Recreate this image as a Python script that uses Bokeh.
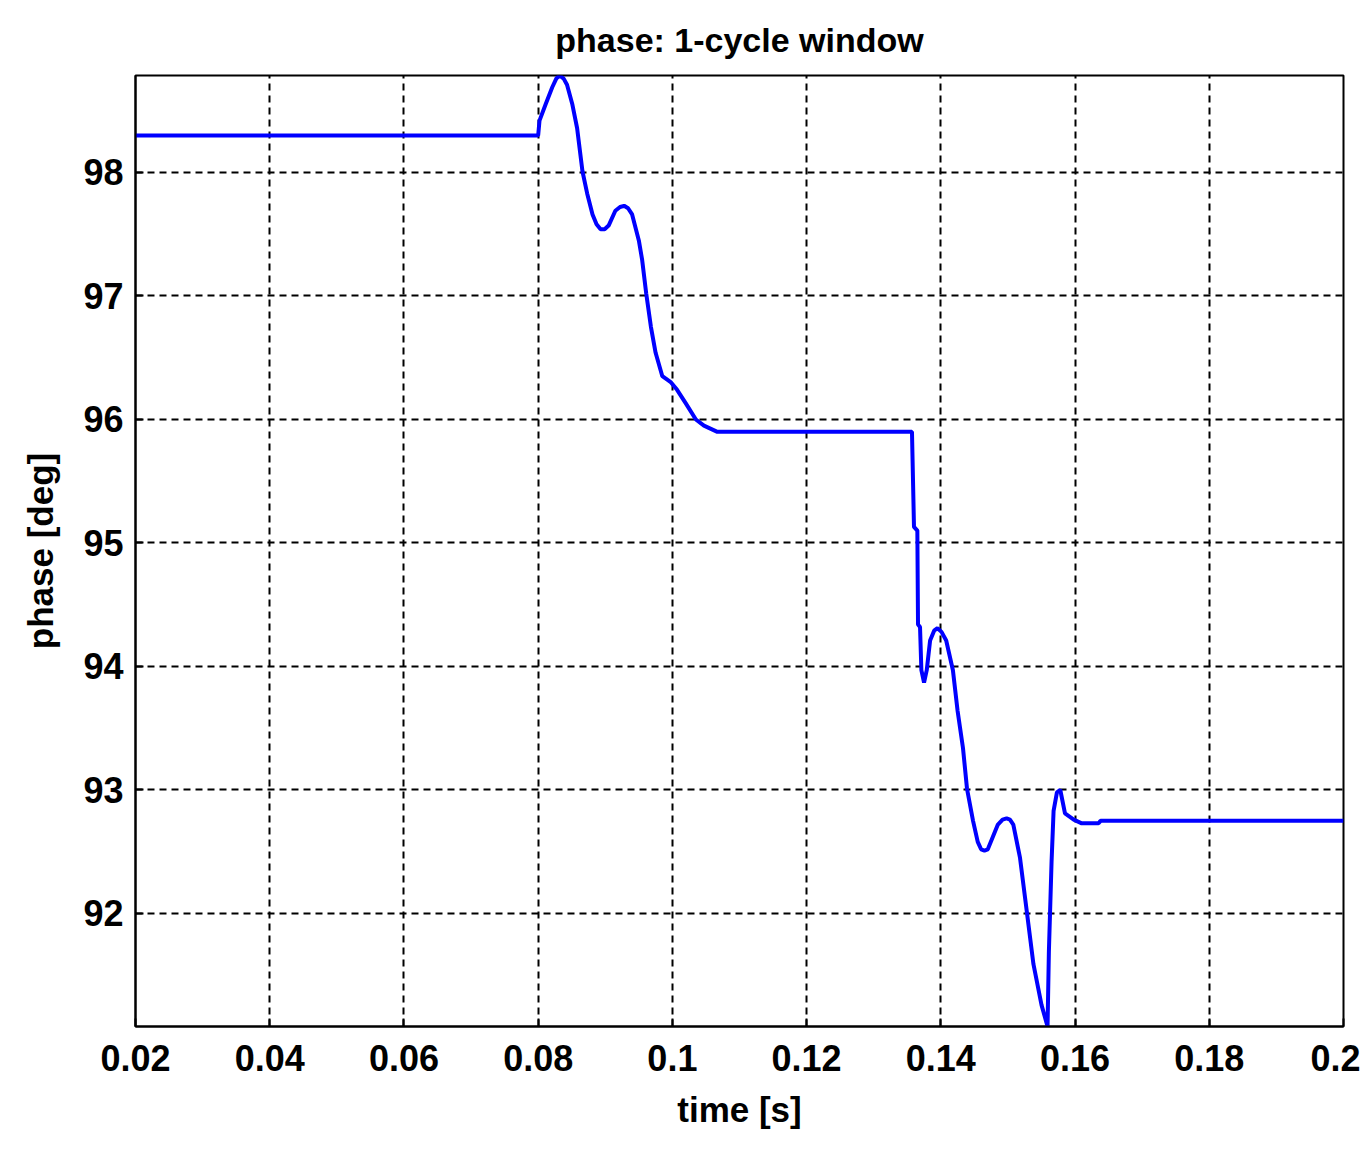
from bokeh.plotting import figure
from bokeh.models import Range1d, FixedTicker
from bokeh.embed import file_html
from bokeh.resources import INLINE

# time [s]
t = [0.0200, 0.0800, 0.0802, 0.0811, 0.0821, 0.0827, 0.0832, 0.0838, 0.0843, 0.0851,
     0.0858, 0.0866, 0.0873, 0.0881, 0.0887, 0.0893, 0.0899, 0.0905, 0.0915, 0.0922,
     0.0928, 0.0934, 0.0940, 0.0950, 0.0955, 0.0961, 0.0968, 0.0975, 0.0985, 0.0998,
     0.1007, 0.1020, 0.1035, 0.1047, 0.1067, 0.1357, 0.1360, 0.1365, 0.1366, 0.1369,
     0.1371, 0.1375, 0.1379, 0.1384, 0.1390, 0.1395, 0.1401, 0.1408, 0.1418, 0.1425,
     0.1433, 0.1439, 0.1448, 0.1455, 0.1460, 0.1465, 0.1470, 0.1485, 0.1492, 0.1498,
     0.1503, 0.1508, 0.1518, 0.1528, 0.1538, 0.1550, 0.1559, 0.1561, 0.1565, 0.1568,
     0.1573, 0.1578, 0.1585, 0.1598, 0.1610, 0.1635, 0.1638, 0.2000]
# phase [deg]
phase = [98.30, 98.30, 98.42, 98.55, 98.69, 98.76, 98.785, 98.76, 98.71, 98.55,
         98.36, 98.01, 97.83, 97.66, 97.58, 97.54, 97.54, 97.57, 97.69, 97.72,
         97.73, 97.71, 97.66, 97.45, 97.29, 97.02, 96.75, 96.54, 96.35, 96.30,
         96.24, 96.13, 96.00, 95.95, 95.90, 95.90, 95.13, 95.10, 94.34, 94.32,
         93.97, 93.87, 93.97, 94.21, 94.29, 94.31, 94.28, 94.21, 93.97, 93.64,
         93.34, 93.01, 92.75, 92.58, 92.52, 92.51, 92.52, 92.72, 92.76, 92.77,
         92.76, 92.72, 92.45, 92.02, 91.59, 91.26, 91.085, 91.69, 92.42, 92.83,
         92.98, 93.00, 92.81, 92.76, 92.73, 92.73, 92.75, 92.75]

xticks = [0.02, 0.04, 0.06, 0.08, 0.1, 0.12, 0.14, 0.16, 0.18, 0.2]
xtick_labels = ["0.02", "0.04", "0.06", "0.08", "0.1", "0.12", "0.14", "0.16", "0.18", "0.2"]
yticks = [92, 93, 94, 95, 96, 97, 98]
ytick_labels = ["92", "93", "94", "95", "96", "97", "98"]

FONT = "Liberation Sans"

p = figure(width=1360, height=1144, output_backend="svg", toolbar_location=None,
           x_range=Range1d(0.02, 0.2), y_range=Range1d(91.085, 98.785),
           min_border_left=135, min_border_right=17, min_border_top=75, min_border_bottom=118,
           title="phase: 1-cycle window")

p.line(t, phase, line_color="#0000FF", line_width=4)

p.title.align = "center"
p.title.vertical_align = "top"
p.title.text_font = FONT
p.title.text_font_size = "34px"
p.title.text_font_style = "bold"
p.title.text_color = "black"
p.title.standoff = 30

p.outline_line_color = "black"
p.outline_line_width = 2
p.outline_line_alpha = 1

for ax, ticks, labels in ((p.xaxis[0], xticks, xtick_labels), (p.yaxis[0], yticks, ytick_labels)):
    ax.ticker = FixedTicker(ticks=ticks)
    ax.major_label_overrides = {tk: lb for tk, lb in zip(ticks, labels)}
    ax.major_tick_in = 8
    ax.major_tick_out = 0
    ax.minor_tick_line_color = None
    ax.major_tick_line_color = "black"
    ax.major_tick_line_width = 2
    ax.axis_line_color = "black"
    ax.axis_line_width = 2
    ax.major_label_text_font = FONT
    ax.major_label_text_font_size = "36px"
    ax.major_label_text_font_style = "bold"
    ax.major_label_text_color = "black"
    ax.axis_label_text_font = FONT
    ax.axis_label_text_font_size = "35px"
    ax.axis_label_text_font_style = "bold"
    ax.axis_label_text_color = "black"

p.xaxis.axis_label = "time [s]"
p.yaxis.axis_label = "phase [deg]"
p.xaxis.major_label_standoff = 18
p.yaxis.major_label_standoff = 12
p.xaxis.axis_label_standoff = 16
p.yaxis.axis_label_standoff = 20

for g in (p.xgrid[0], p.ygrid[0]):
    g.grid_line_color = "black"
    g.grid_line_width = 2
    g.grid_line_dash = "7 5"
    g.grid_line_alpha = 1

p.background_fill_color = "white"
p.border_fill_color = "white"

open("out.html", "w").write(file_html(p, INLINE))
